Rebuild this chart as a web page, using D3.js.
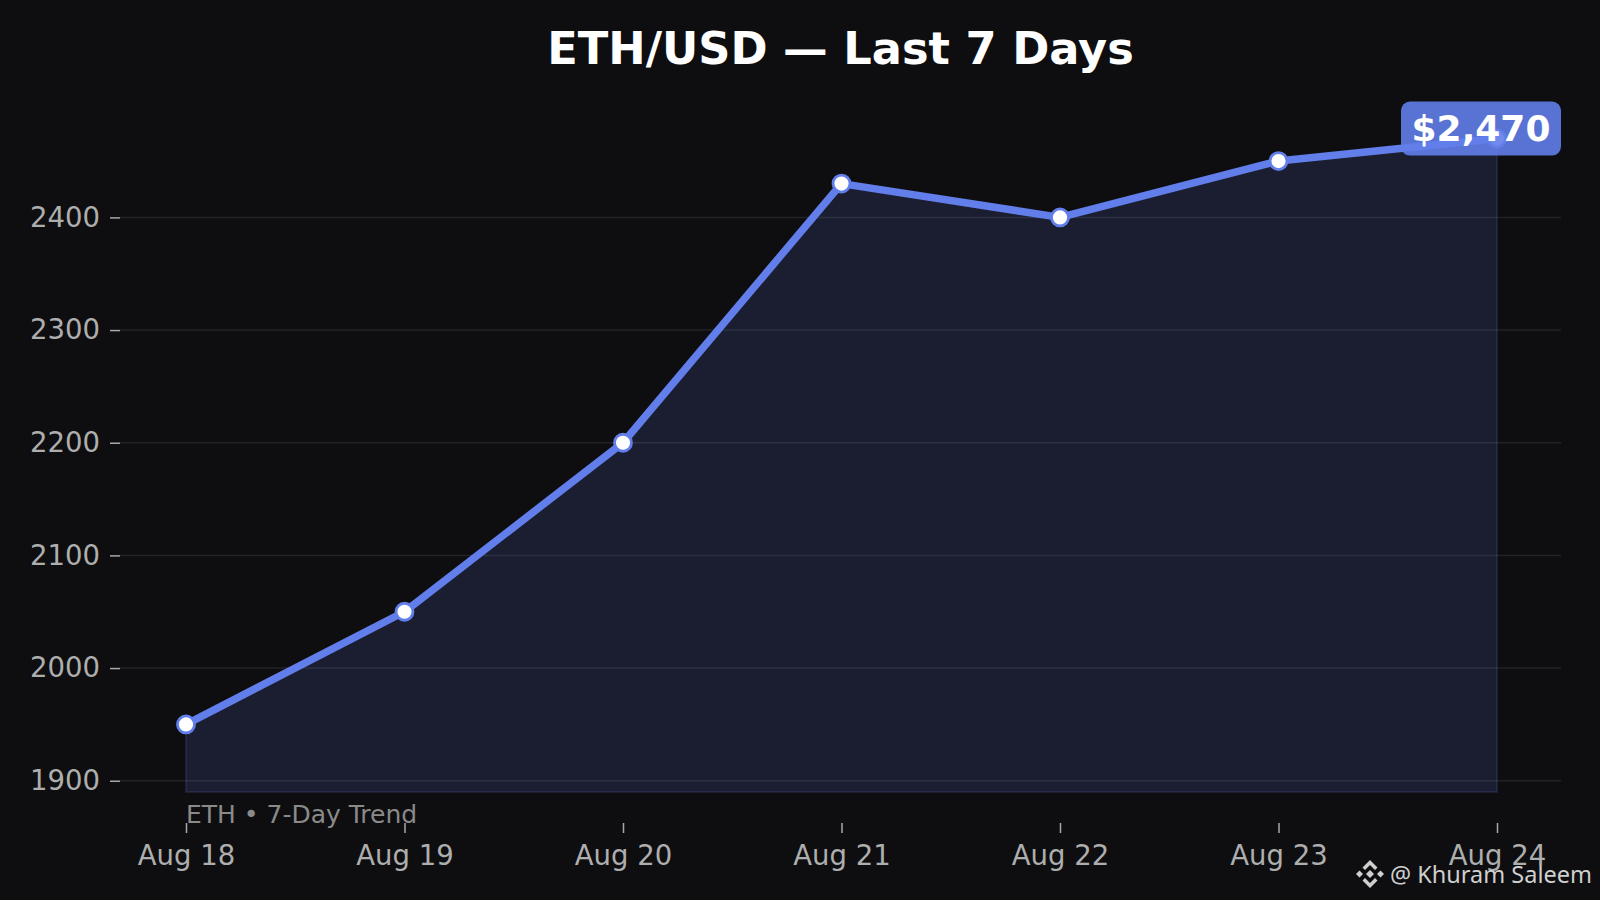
<html>
<head>
    <meta charset="utf-8">
    <script src="https://d3js.org/d3.v7.min.js"></script>
    <style>
        body {
            margin: 0;
            background: #0e0e10;
        }
        svg {
            display: block;
        }
    </style>
</head>

<body>

    <svg id="chart" width="1600" height="900"></svg>

    <script>

        // data
        let days   = ["Aug 18", "Aug 19", "Aug 20", "Aug 21", "Aug 22", "Aug 23", "Aug 24"]
        let prices = [1950, 2050, 2200, 2430, 2400, 2450, 2470]
        let yTicks = [1900, 2000, 2100, 2200, 2300, 2400]

        let data = days.map((d, i) => ({day: d, price: prices[i]}))

        let eth = "#627EEA"

        let svg = d3.select("#chart"),
            margin = {top: 116, left: 120, bottom: 108, right: 39},
            width = +svg.attr("width"),
            height = +svg.attr("height");

        svg.append("rect")
            .attr("width", width).attr("height", height)
            .attr("fill", "#0e0e10")

        let x = d3.scalePoint()
            .domain(days)
            .range([186, 1497])

        let y = d3.scaleLinear()
            .domain([d3.min(prices) - 60, d3.max(prices) + 20])
            .range([height - margin.bottom, margin.top])

        // grid
        svg.append("g")
            .selectAll("line")
            .data(yTicks)
            .enter().append("line")
            .attr("x1", margin.left)
            .attr("x2", width - margin.right)
            .attr("y1", d => y(d))
            .attr("y2", d => y(d))
            .attr("stroke", "#232327")
            .attr("stroke-width", 1.5)

        // y axis
        let yAxis = svg.append("g")
            .attr("transform", `translate(${margin.left},0)`)
            .call(d3.axisLeft(y).tickValues(yTicks).tickFormat(d3.format("d")).tickSize(10).tickPadding(10))

        // x axis, pushed down below the plot
        let xAxis = svg.append("g")
            .attr("transform", `translate(0,823)`)
            .call(d3.axisBottom(x).tickSize(10).tickPadding(12))

        svg.selectAll(".domain").remove()
        svg.selectAll(".tick line").attr("stroke", "#a8a8a8").attr("stroke-width", 1.5)
        svg.selectAll(".tick text")
            .attr("fill", "#aeaeae")
            .style("font-family", "DejaVu Sans")
            .style("font-size", "27.5px")

        // area + line
        let area = d3.area()
            .x(d => x(d.day))
            .y0(y.range()[0])
            .y1(d => y(d.price))

        svg.append("path")
            .datum(data)
            .attr("d", area)
            .attr("fill", eth)
            .attr("fill-opacity", 0.15)
            .attr("stroke", eth)
            .attr("stroke-opacity", 0.15)
            .attr("stroke-width", 2)

        let line = d3.line()
            .x(d => x(d.day))
            .y(d => y(d.price))

        svg.append("path")
            .datum(data)
            .attr("d", line)
            .attr("fill", "none")
            .attr("stroke", eth)
            .attr("stroke-width", 7.5)
            .attr("stroke-linejoin", "round")

        svg.append("g")
            .selectAll("circle")
            .data(data)
            .enter().append("circle")
            .attr("cx", d => x(d.day))
            .attr("cy", d => y(d.price))
            .attr("r", 8.5)
            .attr("fill", "white")
            .attr("stroke", eth)
            .attr("stroke-width", 2.8)

        // last price badge
        let last = data[data.length - 1]
        let bw = 160, bh = 54
        let bx = Math.min(x(last.day) - bw / 2, width - margin.right - bw)
        let by = y(last.price) - 37

        svg.append("rect")
            .attr("x", bx).attr("y", by)
            .attr("width", bw).attr("height", bh)
            .attr("rx", 9)
            .attr("fill", eth)
            .attr("fill-opacity", 0.9)

        svg.append("text")
            .attr("x", bx + bw / 2)
            .attr("y", by + 39)
            .attr("text-anchor", "middle")
            .attr("fill", "white")
            .style("font-family", "DejaVu Sans")
            .style("font-weight", "bold")
            .style("font-size", "36px")
            .text("$" + d3.format(",")(last.price))

        // title
        svg.append("text")
            .attr("x", (margin.left + width - margin.right) / 2)
            .attr("y", 64)
            .attr("text-anchor", "middle")
            .attr("fill", "white")
            .style("font-family", "DejaVu Sans")
            .style("font-weight", "bold")
            .style("font-size", "44.7px")
            .text("ETH/USD — Last 7 Days")

        // caption under the plot
        svg.append("text")
            .attr("x", x(days[0]))
            .attr("y", 823)
            .attr("fill", "#8a8a8a")
            .style("font-family", "DejaVu Sans")
            .style("font-size", "25px")
            .text("ETH • 7-Day Trend")

        // watermark
        let wm = svg.append("g").attr("fill", "#cfcfcf")

        let logo = wm.append("g").attr("transform", "translate(1370,874)")
        logo.append("path")
            .attr("d", "M0,-14 L7.5,-6.5 L5,-4 L0,-9 L-5,-4 L-7.5,-6.5 Z")
        logo.append("path")
            .attr("d", "M0,14 L7.5,6.5 L5,4 L0,9 L-5,4 L-7.5,6.5 Z")
        logo.append("path")
            .attr("d", "M-14,0 L-10.5,-3.5 L-7,0 L-10.5,3.5 Z")
        logo.append("path")
            .attr("d", "M14,0 L10.5,-3.5 L7,0 L10.5,3.5 Z")
        logo.append("path")
            .attr("d", "M0,-4 L4,0 L0,4 L-4,0 Z")

        wm.append("text")
            .attr("x", 1592)
            .attr("y", 883)
            .attr("text-anchor", "end")
            .style("font-family", "Noto Sans")
            .style("font-size", "23.5px")
            .text("@ Khuram Saleem")

    </script>

</body>
</html>
